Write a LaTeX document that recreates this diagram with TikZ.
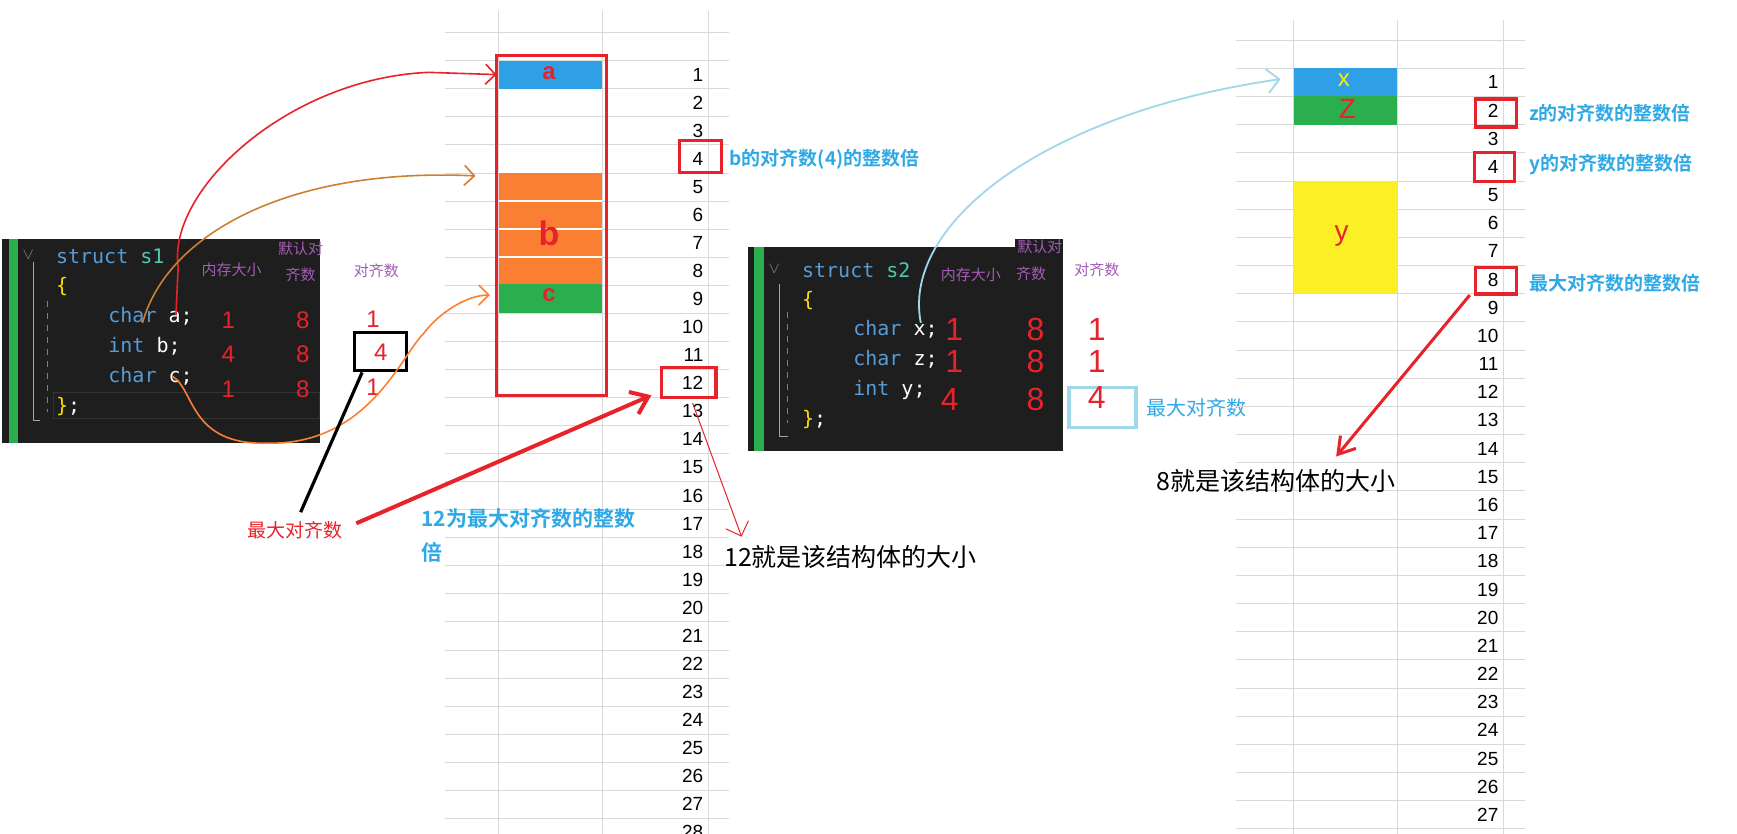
\documentclass[tikz,border=0pt]{standalone}
\usepackage{fontspec}
\setmainfont{Liberation Sans}
\newfontfamily\cjk{Noto Sans CJK SC}
\newfontfamily\cjkb{Noto Sans CJK SC Bold}
\setmonofont{DejaVu Sans Mono}
\usetikzlibrary{arrows.meta}
\definecolor{codebg}{HTML}{1E1E1E}
\definecolor{kw}{HTML}{569CD6}
\definecolor{tn}{HTML}{4EC9B0}
\definecolor{pur}{HTML}{A35BB5}
\definecolor{rd}{HTML}{E8222A}
\definecolor{skyb}{HTML}{2EA9E6}
\definecolor{cellb}{HTML}{2F9FE6}
\definecolor{cellg}{HTML}{2BAF4E}
\definecolor{cello}{HTML}{FB7F32}
\definecolor{celly}{HTML}{FBF026}
\definecolor{lb}{HTML}{9ED8EA}
\definecolor{grid}{HTML}{D9D9D9}
\tikzset{
 x=0.5567pt,y=-0.5567pt,
 code/.style={font=\ttfamily\fontsize{10}{10}\selectfont,text=white,anchor=west,inner sep=0},
 lab/.style={font=\cjk\fontsize{7.5}{8}\selectfont,text=pur,inner sep=0},
 num/.style={font=\fontsize{12}{12}\selectfont,text=rd,inner sep=0},
 rown/.style={font=\fontsize{9.5}{10}\selectfont,anchor=east,inner sep=0},
 redbox/.style={draw=rd,line width=1.6pt},
 note/.style={font=\cjkb\fontsize{9.5}{14}\selectfont,text=skyb,anchor=west,inner sep=0},
}
\begin{document}
\begin{tikzpicture}
\useasboundingbox[fill=white] (0,0) rectangle (1560,749);
% ---------- left sheet ----------
\foreach \k in {0,...,28} \draw[grid,line width=0.4pt] (400,{29.3+\k*25.2}) -- (655,{29.3+\k*25.2});
\foreach \xx in {448,541,636} \draw[grid,line width=0.4pt] (\xx,10) -- (\xx,749);
\fill[cellb] (448,54.5) rectangle (541,79.7);
\fill[cello] (448,155.3) rectangle (541,255.5);
\foreach \yy in {180.5,205.7,230.9} \draw[white,line width=0.6pt] (448,\yy) -- (541,\yy);
\fill[cellg] (448,255.5) rectangle (541,280.7);
\node[font=\bfseries\fontsize{12}{12}\selectfont,text=rd] (ca) at (493,66) {a};
\node[font=\bfseries\fontsize{17}{17}\selectfont,text=rd] (cb) at (493,210) {b};
\node[font=\bfseries\fontsize{12}{12}\selectfont,text=rd] (cc) at (493,265) {c};
\foreach \k in {1,...,28} \node[rown] (L\k) at (632,{67+(\k-1)*25.2}) {\k};
\draw[redbox] (446,50) rectangle (545,355);
\draw[redbox] (610,126) rectangle (648,155);
\draw[redbox] (594,330) rectangle (643,357);
\node[note] (bnote) at (655,143) {b的对齐数(4)的整数倍};
% ---------- code box 1 ----------
\fill[codebg] (2,215) rectangle (287,398);
\fill[cellg] (8,215) rectangle (16,398);
\draw[gray,dashed] (43,270) -- (43,370);
\draw[gray!70] (30,235) -- (30,378) -- (36,378);
\draw[gray!40!black] (48,352) rectangle (287,376);
\node[code,text=gray] at (20,229) {\fontsize{8}{8}\selectfont$\vee$};
\node[code] (s1) at (50,230) {\textcolor{kw}{struct} \textcolor{tn}{s1}};
\node[code,text=yellow!80!orange] at (50,257) {\{};
\node[code] (ln1) at (97,284) {\textcolor{kw}{char} a;};
\node[code] (ln2) at (97,311) {\textcolor{kw}{int} b;};
\node[code] (ln3) at (97,338) {\textcolor{kw}{char} c;};
\node[code] at (50,365) {\textcolor{yellow!80!orange}{\}};};
\node[lab] at (208,242) {内存大小};
\node[lab] at (270,223) {默认对};
\node[lab] at (270,247) {齐数};
\node[lab] at (338,243) {对齐数};
\foreach \yy/\a/\b in {288/1/8,318/4/8,350/1/8}{\node[num] at (205,\yy) {\a}; \node[num] at (272,\yy) {\b};}
\node[num] at (335,287) {1};
\node[num,draw=black,line width=1.6pt,minimum width=26pt,minimum height=19pt] (four1) at (342,316) {4};
\node[num] at (335,348) {1};
% arrows from code 1
\draw[rd,line width=0.8pt,-{Straight Barb[length=5pt]}] (158,283) -- (160,240) .. controls (150,170) and (260,70) .. (385,65) -- (446,67);
\draw[brown!80!orange,line width=0.8pt,-{Straight Barb[length=5pt]}] (128,290) .. controls (150,210) and (260,150) .. (427,158);
\draw[cello,line width=0.8pt,-{Straight Barb[length=5pt]}] (155,338) .. controls (175,350) and (170,400) .. (240,398) .. controls (330,400) and (360,320) .. (380,300) .. controls (395,280) and (420,265) .. (440,265);
\node[font=\cjk\fontsize{9.5}{10}\selectfont,text=rd] (maxal) at (265,476) {最大对齐数};
\draw[black,line width=1.6pt] (four1.south west) ++(8,0) -- (270,460);
\draw[rd,line width=2pt,-{Straight Barb[length=8pt,width=12pt]}] (320,470) -- (585,355);
\node[note,align=left,anchor=north west,font=\cjkb\fontsize{10.5}{17}\selectfont] (n12) at (378,456) {12为最大对齐数的整数\\倍};
\draw[rd,line width=0.5pt,-{Straight Barb[length=6pt]}] (622,362) -- (666,482);
\node[font=\cjk\fontsize{12.5}{12}\selectfont,anchor=west,inner sep=0] (s12) at (650,500) {12就是该结构体的大小};
% ---------- code box 2 ----------
\fill[codebg] (672,222) rectangle (955,405);
\fill[cellg] (677,222) rectangle (686,405);
\fill[codebg] (912,215) rectangle (955,230);
\draw[gray,dashed] (707,280) -- (707,380);
\draw[gray!70] (700,255) -- (700,392) -- (708,392);
\node[code,text=gray] at (690,242) {\fontsize{8}{8}\selectfont$\vee$};
\node[code] (s2) at (720,243) {\textcolor{kw}{struct} \textcolor{tn}{s2}};
\node[code,text=yellow!80!orange] at (720,270) {\{};
\node[code] (m1) at (766,296) {\textcolor{kw}{char} x;};
\node[code] (m2) at (766,323) {\textcolor{kw}{char} z;};
\node[code] (m3) at (766,350) {\textcolor{kw}{int} y;};
\node[code] at (720,377) {\textcolor{yellow!80!orange}{\}};};
\node[lab] at (872,247) {内存大小};
\node[lab] at (934,222) {默认对};
\node[lab] at (926,246) {齐数};
\node[lab] at (985,242) {对齐数};
\tikzset{bnum/.style={font=\fontsize{16}{16}\selectfont,text=rd,inner sep=0}}
\foreach \yy in {296,325}{\node[bnum] at (857,\yy) {1}; \node[bnum] at (930,\yy) {8}; \node[bnum] at (985,\yy) {1};}
\node[bnum] at (853,359) {4}; \node[bnum] at (930,359) {8};
\draw[lb,line width=1.8pt] (960,348) rectangle (1020,384);
\node[bnum] (four2) at (985,357) {4};
\node[font=\cjk\fontsize{10}{10}\selectfont,text=skyb,anchor=west,inner sep=0] (maxal2) at (1029,366) {最大对齐数};
\draw[lb,line width=0.9pt,-{Straight Barb[length=6pt]}] (827,290) .. controls (815,230) and (870,170) .. (950,130) .. controls (1020,95) and (1090,80) .. (1150,71);
% ---------- right sheet ----------
\foreach \k in {0,...,29} \draw[grid,line width=0.4pt] (1110,{36+\k*25.3}) -- (1370,{36+\k*25.3});
\foreach \xx in {1162,1255,1350} \draw[grid,line width=0.4pt] (\xx,18) -- (\xx,749);
\fill[cellb] (1162,61.3) rectangle (1255,86.6);
\fill[cellg] (1162,86.6) rectangle (1255,111.9);
\fill[celly] (1162,162.5) rectangle (1255,263.7);
\node[font=\fontsize{12}{12}\selectfont,text=yellow] (cx) at (1207,72) {x};
\node[font=\fontsize{14}{14}\selectfont,text=rd] (cz) at (1210,98) {Z};
\node[font=\fontsize{14}{14}\selectfont,text=rd] (cy) at (1205,212) {y};
\foreach \k in {1,...,28} \node[rown] (R\k) at (1346,{74+(\k-1)*25.3}) {\k};
\draw[redbox] (1325,89) rectangle (1362,114);
\draw[redbox] (1324,137) rectangle (1360,163);
\draw[redbox] (1325,240) rectangle (1362,264);
\node[note] at (1373,102) {z的对齐数的整数倍};
\node[note] at (1373,148) {y的对齐数的整数倍};
\node[note] at (1373,254) {最大对齐数的整数倍};
\draw[rd,line width=1.5pt,-{Straight Barb[length=8pt,width=10pt]}] (1320,265) -- (1200,410);
\node[font=\cjk\fontsize{12.5}{12}\selectfont,anchor=west,inner sep=0] (s8) at (1038,432) {8就是该结构体的大小};
\end{tikzpicture}
\end{document}
